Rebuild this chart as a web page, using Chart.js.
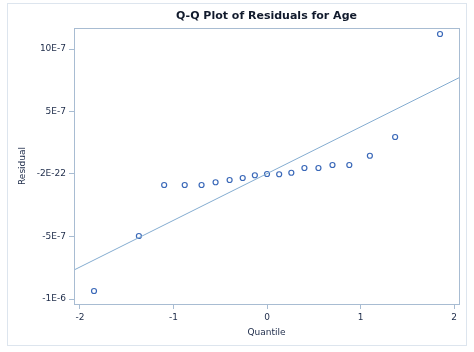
<!DOCTYPE html>
<html>
<head>
<meta charset="utf-8">
<script src="https://cdn.jsdelivr.net/npm/chart.js@4"></script>
<style>
  body { margin: 0; background: #fff; }
  #wrap { position: relative; width: 474px; height: 352px; }
  #frame { position: absolute; left: 7px; top: 3px; width: 458px; height: 341px; border: 1px solid #dde5ee; }
  #graph1 { position: absolute; left: 0; top: 0; }
</style>
</head>
<body>
<div id="wrap">
  <div id="frame"></div>
  <canvas id="graph1" width="474" height="352"></canvas>
</div>
<script>
// normal quantiles and residuals
const quantiles = [-1.85, -1.37, -1.10, -0.88, -0.70, -0.55, -0.40, -0.26, -0.13, 0,
                   0.13, 0.26, 0.40, 0.55, 0.70, 0.88, 1.10, 1.37, 1.85];
const residuals = [-9.36e-7, -4.96e-7, -0.88e-7, -0.88e-7, -0.88e-7, -0.66e-7, -0.48e-7, -0.32e-7, -0.10e-7, 0,
                   -0.02e-7, 0.10e-7, 0.48e-7, 0.48e-7, 0.72e-7, 0.72e-7, 1.46e-7, 2.96e-7, 11.2e-7];

// reference line end points
const lineX = [-2.064, 2.053];
const lineY = [-7.68e-7, 7.70e-7];

const yTicks = [-1e-6, -5e-7, 0, 5e-7, 1e-6];
const yTickLabels = ['-1E-6', '-5E-7', '-2E-22', '5E-7', '10E-7'];
const xTicks = [-2, -1, 0, 1, 2];

const navy = '#1c2a48';
const axisColor = '#a8bcd2';

const ctx = document.getElementById('graph1').getContext('2d');

// full frame around the plot area
const boxPlugin = {
  id: 'box',
  afterDraw(chart) {
    const a = chart.chartArea;
    const c = chart.ctx;
    c.save();
    c.strokeStyle = axisColor;
    c.lineWidth = 1;
    c.strokeRect(Math.round(a.left) + 0.5, Math.round(a.top) + 0.5, Math.round(a.right - a.left), Math.round(a.bottom - a.top));
    c.restore();
  }
};

const data = {
  datasets: [
    {
      type: 'line',
      label: 'Reference',
      data: lineX.map((x, i) => ({ x: x, y: lineY[i] })),
      borderColor: '#84acd0',
      borderWidth: 1,
      pointRadius: 0,
      fill: false
    },
    {
      type: 'scatter',
      label: 'Residual',
      data: quantiles.map((q, i) => ({ x: q, y: residuals[i] })),
      borderColor: '#3a68b8',
      backgroundColor: 'rgba(0,0,0,0)',
      borderWidth: 1.2,
      pointRadius: 2.5
    }
  ]
};

const options = {
  responsive: false,
  animation: false,
  layout: { padding: { left: 0, right: 15, top: 0, bottom: 0 } },
  plugins: {
    legend: { display: false },
    tooltip: { enabled: false },
    title: {
      display: true,
      fullSize: false,
      text: 'Q-Q Plot of Residuals for Age',
      color: '#111a2c',
      font: { family: 'DejaVu Sans', size: 11, weight: 'bold', lineHeight: 1.2 },
      padding: { top: 10, bottom: 4.8 }
    }
  },
  scales: {
    x: {
      type: 'linear',
      min: -2.064,
      max: 2.053,
      afterFit: (s) => { s.height = 48; },
      afterBuildTicks: (s) => { s.ticks = xTicks.map(v => ({ value: v })); },
      ticks: {
        color: navy,
        font: { family: 'DejaVu Sans', size: 9 },
        padding: 3,
        callback: (v) => String(v)
      },
      grid: { drawOnChartArea: false, drawTicks: true, tickLength: 5, color: axisColor },
      border: { display: true, color: axisColor },
      title: {
        display: true,
        text: 'Quantile',
        color: navy,
        font: { family: 'DejaVu Sans', size: 9 },
        padding: { top: 4, bottom: 14 }
      }
    },
    y: {
      type: 'linear',
      min: -1.04e-6,
      max: 1.168e-6,
      afterFit: (s) => { s.width = 74; },
      afterBuildTicks: (s) => { s.ticks = yTicks.map(v => ({ value: v })); },
      ticks: {
        color: navy,
        font: { family: 'DejaVu Sans', size: 9 },
        padding: 3,
        callback: (v) => yTickLabels[yTicks.indexOf(v)]
      },
      grid: { drawOnChartArea: false, drawTicks: true, tickLength: 5, color: axisColor },
      border: { display: true, color: axisColor },
      title: {
        display: true,
        text: 'Residual',
        color: navy,
        font: { family: 'DejaVu Sans', size: 9 },
        padding: { top: 17, bottom: 4 }
      }
    }
  }
};

const chart = new Chart(ctx, { data: data, options: options, plugins: [boxPlugin] });
</script>
</body>
</html>
